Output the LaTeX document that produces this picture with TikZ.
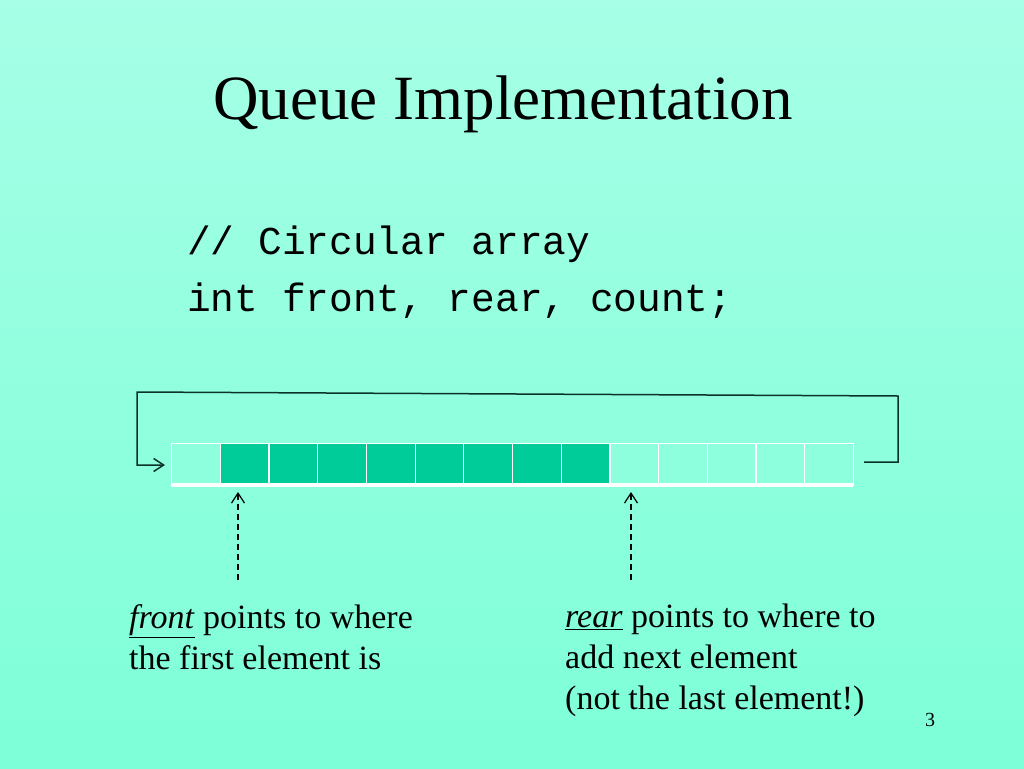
\documentclass[tikz,border=0pt]{standalone}
\usepackage{fontspec}
\setmainfont{Liberation Serif}
\setmonofont{Liberation Mono}
\usetikzlibrary{arrows.meta}
\definecolor{bgtop}{RGB}{166,255,230}
\definecolor{bgbot}{RGB}{125,255,215}
\definecolor{fill}{RGB}{0,204,153}
\definecolor{line}{RGB}{10,50,40}
\begin{document}
\begin{tikzpicture}[x=1pt,y=-1pt,
  cell/.style={draw=white,line width=1.2pt,minimum width=48.7pt,minimum height=42pt,inner sep=0,anchor=north west},
  loop/.style={draw=line,line width=1.5pt},
  ptr/.style={draw=black,line width=1.2pt,dashed,dash pattern=on 6pt off 4pt,-{Straight Barb[length=10pt,width=13pt]}},
  txt/.style={font=\fontsize{34}{41}\selectfont,align=left,anchor=north west,inner sep=0}]
\shade[top color=bgtop,bottom color=bgbot] (0,0) rectangle (1024,768);
\useasboundingbox (0,0) rectangle (1024,768);
\node (title) at (503,104) {\fontsize{63}{66}\selectfont Queue Implementation};
\node[anchor=west,inner sep=0] (c1) at (187,244) {\fontsize{39.5}{42}\selectfont\ttfamily // Circular array};
\node[anchor=west,inner sep=0] (c2) at (187,301) {\fontsize{39.5}{42}\selectfont\ttfamily int front, rear, count;};
\foreach \i in {0,...,13}{
  \pgfmathtruncatemacro{\f}{(\i>0)&&(\i<9)}
  \ifnum\f=1
    \node[cell,fill=fill] (a\i) at (171+\i*48.7,443) {};
  \else
    \node[cell] (a\i) at (171+\i*48.7,443) {};
  \fi
}
\fill[white] (171,483) rectangle (853,487);
\coordinate (r0) at (864,462);
\coordinate (l1) at (165,465);
\draw[loop,-{Straight Barb[length=10pt,width=13pt]}] (r0) -- (898,462) -- (898,396) -- (137,392) -- (137,465) -- (l1);
\node[txt] (ft) at (129,604) {\underline{\textit{front}} points to where\\the first element is};
\node[txt] (rt) at (565,604) {\underline{\textit{rear}} points to where to\\add next element\\(not the last element!)};
\coordinate (fb) at (238,580);
\coordinate (rb) at (631,580);
\draw[ptr] (fb) -- (238,492);
\draw[ptr] (rb) -- (631,492);
\node (pg) at (930,720) {\fontsize{20}{22}\selectfont 3};
\end{tikzpicture}
\end{document}
